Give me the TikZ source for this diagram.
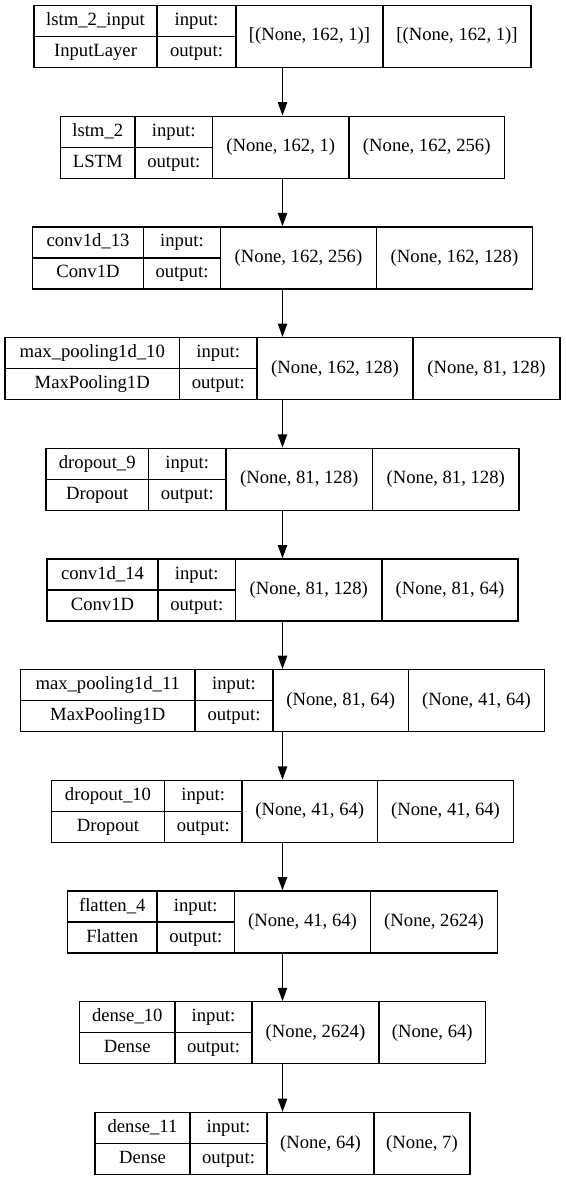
\documentclass[tikz,border=0pt]{standalone}
\usepackage{fontspec}
\setmainfont{Liberation Serif}
\usetikzlibrary{arrows.meta}
\tikzset{
  cell/.style={draw=black, line width=1pt, rectangle, inner sep=0pt,
    text height=0.891em, text depth=0.216em, font=\fontsize{14pt}{17pt}\selectfont},
  layerbox/.style={draw=black, line width=1pt, rectangle, inner sep=0pt},
  flow/.style={draw=black, line width=1pt, -{Triangle[length=10pt,width=7pt]}},
}
\def\parsexs#1,#2,#3,#4,#5;{\def\lxa{#1}\def\lxb{#2}\def\lxc{#3}\def\lxd{#4}\def\lxe{#5}}
\newcommand\layer[7]{%
  \parsexs#3;%
  \pgfmathsetmacro\lyt{5.5+(#2-1)*110.7}%
  \pgfmathsetmacro\lwa{(\lxb-\lxa)*0.75}%
  \pgfmathsetmacro\lwb{(\lxc-\lxb)*0.75}%
  \pgfmathsetmacro\lwc{(\lxd-\lxc)*0.75}%
  \pgfmathsetmacro\lwd{(\lxe-\lxd)*0.75}%
  \pgfmathsetmacro\lwt{(\lxe-\lxa)*0.75}%
  \node[layerbox, minimum width=\lwt pt, minimum height=46.5pt] (#1) at ({(\lxa+\lxe)/2},{\lyt+31}) {};
  \node[cell, minimum width=\lwa pt, minimum height=23.25pt] (#1-name) at ({(\lxa+\lxb)/2},{\lyt+15.5}) {#4};
  \node[cell, minimum width=\lwa pt, minimum height=23.25pt] (#1-class) at ({(\lxa+\lxb)/2},{\lyt+46.5}) {#5};
  \node[cell, minimum width=\lwb pt, minimum height=23.25pt] (#1-inlab) at ({(\lxb+\lxc)/2},{\lyt+15.5}) {input:};
  \node[cell, minimum width=\lwb pt, minimum height=23.25pt] (#1-outlab) at ({(\lxb+\lxc)/2},{\lyt+46.5}) {output:};
  \node[cell, minimum width=\lwc pt, minimum height=46.5pt] (#1-in) at ({(\lxc+\lxd)/2},{\lyt+31}) {#6};
  \node[cell, minimum width=\lwd pt, minimum height=46.5pt] (#1-out) at ({(\lxd+\lxe)/2},{\lyt+31}) {#7};
}
\begin{document}
\begin{tikzpicture}[x=0.75pt, y=-0.75pt]
  \useasboundingbox (0,0) rectangle (565,1180);
  \fill[white] (0,0) rectangle (565,1180);
  \layer{L1}{1}{34,157,236,383,531}{lstm\_2\_input}{InputLayer}{[(None, 162, 1)]}{[(None, 162, 1)]}
  \layer{L2}{2}{60.5,135,212.5,349,504.5}{lstm\_2}{LSTM}{(None, 162, 1)}{(None, 162, 256)}
  \layer{L3}{3}{32.5,143.5,220.5,376.5,532.5}{conv1d\_13}{Conv1D}{(None, 162, 256)}{(None, 162, 128)}
  \layer{L4}{4}{5,179.5,257,413,560}{max\_pooling1d\_10}{MaxPooling1D}{(None, 162, 128)}{(None, 81, 128)}
  \layer{L5}{5}{46,148.5,226,372.5,519}{dropout\_9}{Dropout}{(None, 81, 128)}{(None, 81, 128)}
  \layer{L6}{6}{47,158,235.5,382,518}{conv1d\_14}{Conv1D}{(None, 81, 128)}{(None, 81, 64)}
  \layer{L7}{7}{20.5,195,273,408.5,544.5}{max\_pooling1d\_11}{MaxPooling1D}{(None, 81, 64)}{(None, 41, 64)}
  \layer{L8}{8}{51.5,164.5,242,377.5,513.5}{dropout\_10}{Dropout}{(None, 41, 64)}{(None, 41, 64)}
  \layer{L9}{9}{67.5,157,234.5,370.5,497.5}{flatten\_4}{Flatten}{(None, 41, 64)}{(None, 2624)}
  \layer{L10}{10}{79.5,175,252,379,485.5}{dense\_10}{Dense}{(None, 2624)}{(None, 64)}
  \layer{L11}{11}{95,190,267,374,470}{dense\_11}{Dense}{(None, 64)}{(None, 7)}
  \draw[flow] (L1.south) -- (L2.north);
  \draw[flow] (L2.south) -- (L3.north);
  \draw[flow] (L3.south) -- (L4.north);
  \draw[flow] (L4.south) -- (L5.north);
  \draw[flow] (L5.south) -- (L6.north);
  \draw[flow] (L6.south) -- (L7.north);
  \draw[flow] (L7.south) -- (L8.north);
  \draw[flow] (L8.south) -- (L9.north);
  \draw[flow] (L9.south) -- (L10.north);
  \draw[flow] (L10.south) -- (L11.north);
\end{tikzpicture}
\end{document}
